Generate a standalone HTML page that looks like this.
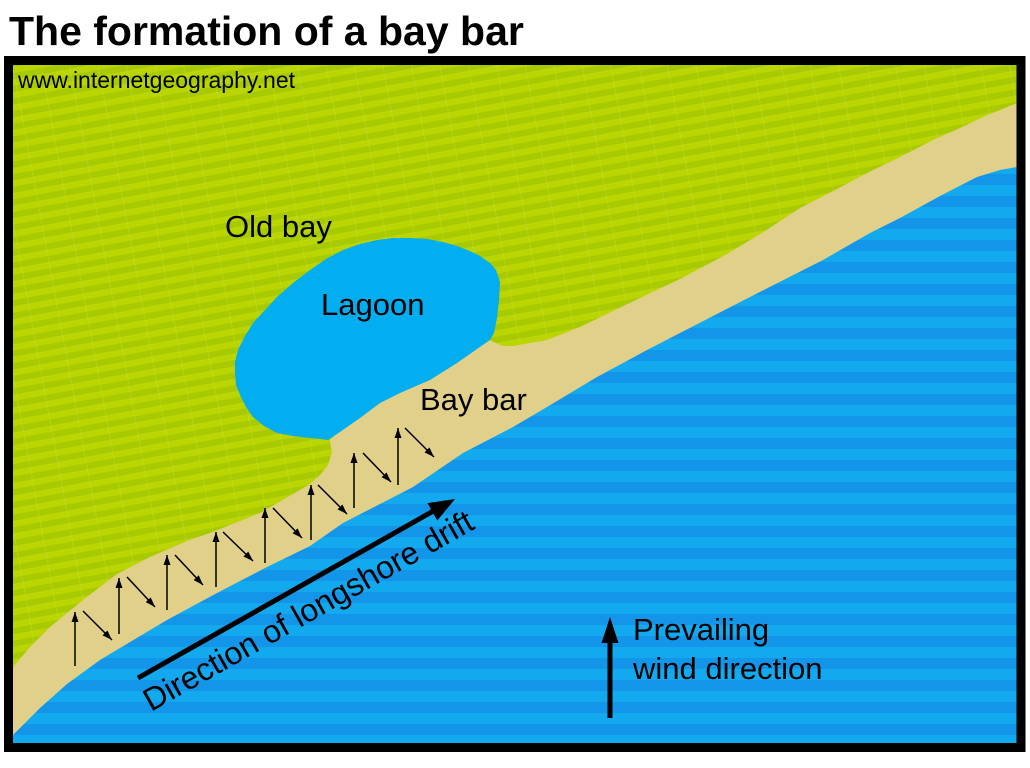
<!DOCTYPE html>
<html><head><meta charset="utf-8"><style>
html,body{margin:0;padding:0;background:#fff;}
svg{display:block;}
text{font-family:"Liberation Sans",Arial,sans-serif;fill:#000;}
</style></head><body>
<svg width="1030" height="768" viewBox="0 0 1030 768" xmlns="http://www.w3.org/2000/svg">
<defs>
<pattern id="grn" patternUnits="userSpaceOnUse" width="28" height="12.4" patternTransform="rotate(-10.5)">
<rect width="28" height="12.4" fill="#bad500"/>
<rect y="0" width="28" height="6.2" fill="#a8ca00"/>
<rect x="0" y="0" width="1" height="12.4" fill="#cfe35a" opacity="0.3"/>
<rect x="0" y="6.2" width="28" height="0.8" fill="#cfe35a" opacity="0.2"/>
</pattern>
<pattern id="blu" patternUnits="userSpaceOnUse" x="0" y="20" width="10" height="22">
<rect width="10" height="22" fill="#13a9ef"/>
<rect width="10" height="11" fill="#1396e9"/>
</pattern>
<clipPath id="clip"><rect x="13" y="65" width="1004" height="678"/></clipPath>
<marker id="ah" viewBox="0 0 10 7" refX="10" refY="3.5" markerWidth="10" markerHeight="7" markerUnits="userSpaceOnUse" orient="auto">
<path d="M0,0 L10,3.5 L0,7 z" fill="#000"/>
</marker>
</defs>

<text x="9" y="45" font-size="41" font-weight="bold">The formation of a bay bar</text>

<g clip-path="url(#clip)">
<rect x="13" y="65" width="1004" height="678" fill="url(#grn)"/>
<path fill="#e0d08a" d="M13,667 L30,647 50,627 83,600 117,574 150,557 187,541 210,533 260,513 293,494 310,484 320,475 328,465 332,452 330,443 330,440 345,426 370,408 400,390 430,376 457,359 477,346 489,340 496,343 503,346 513,346 547,340 580,327 613,311 640,298 680,279 727,254 765,231 800,208 835,190 867,173 900,157 933,140 960,128 983,117 1000,110 1017,103 L1017,743 L13,743 Z"/>
<path fill="url(#blu)" d="M13,735 L40,708 67,684 100,660 130,642 167,620 217,593 267,567 310,546 343,523 380,504 413,487 463,453 513,427 547,407 597,377 647,350 680,333 750,297 823,260 870,233 900,218 940,196 977,177 1000,170 1017,167 L1017,743 L13,743 Z"/>
<path fill="#02aeef" d="M328,440 L340,432 360,418 380,403 400,393 430,380 457,363 477,349 490,340 494,333 497,318 499,300 500,282 496,270 490,263 480,256 470,251 457,246 443,242 427,239 410,238 393,238 377,240 360,244 343,250 326,259 310,270 293,283 277,297 265,310 253,323 245,336 238,350 235,362 235,373 236,385 240,395 246,407 253,417 264,426 277,433 293,436 310,438 320,439 Z"/>
</g>

<rect x="8.5" y="60.5" width="1012.5" height="687" fill="none" stroke="#000" stroke-width="9"/>

<text x="18" y="88" font-size="23">www.internetgeography.net</text>

<g stroke="#000" stroke-width="1.5" fill="none" marker-end="url(#ah)">
<line x1="75" y1="666" x2="75" y2="612"/>
<line x1="83" y1="611" x2="112" y2="640"/>
<line x1="119" y1="634" x2="119" y2="578"/>
<line x1="127" y1="577" x2="155" y2="607"/>
<line x1="167" y1="610" x2="167" y2="555"/>
<line x1="175" y1="555" x2="203" y2="585"/>
<line x1="216" y1="587" x2="216" y2="532"/>
<line x1="223" y1="532" x2="253" y2="561"/>
<line x1="265" y1="563" x2="265" y2="508"/>
<line x1="273" y1="508" x2="302" y2="538"/>
<line x1="311" y1="540" x2="311" y2="485"/>
<line x1="318" y1="485" x2="347" y2="514"/>
<line x1="354" y1="508" x2="354" y2="453"/>
<line x1="363" y1="453" x2="391" y2="482"/>
<line x1="398" y1="485" x2="398" y2="428"/>
<line x1="405" y1="428" x2="434" y2="457"/>
</g>

<line x1="138" y1="678" x2="436" y2="509.5" stroke="#000" stroke-width="5"/>
<polygon points="455,499 437.3,520.5 427.5,503.1" fill="#000"/>
<text transform="translate(151,712) rotate(-29.5)" font-size="32">Direction of longshore drift</text>

<line x1="610" y1="718" x2="610" y2="638" stroke="#000" stroke-width="5"/>
<polygon points="610,617 601.5,643 618.5,643" fill="#000"/>

<text x="225" y="237" font-size="31">Old bay</text>
<text x="321" y="315" font-size="31">Lagoon</text>
<text x="420" y="410" font-size="31">Bay bar</text>
<text x="633" y="640" font-size="31">Prevailing</text>
<text x="633" y="679" font-size="31">wind direction</text>
</svg>
</body></html>
